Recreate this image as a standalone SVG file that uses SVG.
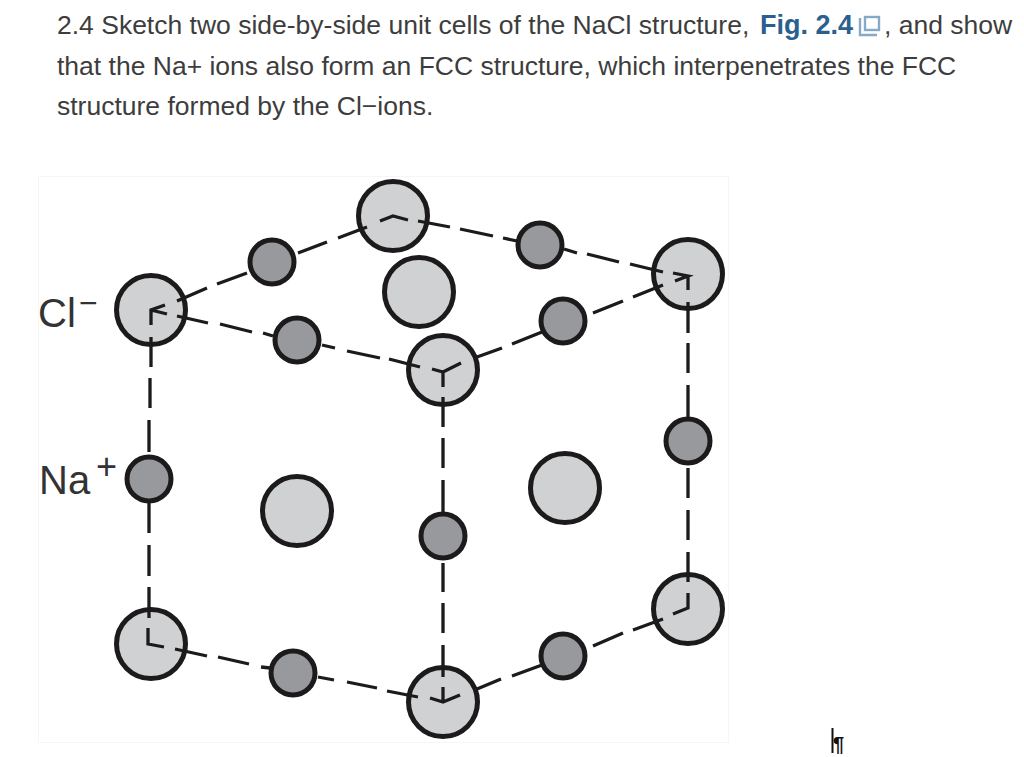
<svg xmlns="http://www.w3.org/2000/svg" width="1024" height="757" viewBox="0 0 1024 757">
<style>
.q{font-family:"Liberation Sans",Arial,sans-serif;font-size:26.5px;fill:#3d3d3d}
.b{font-weight:bold;fill:#2a5f8f;font-size:27px}
.l{font-family:"Liberation Sans",Arial,sans-serif;font-size:40px;fill:#333335}
.cl{fill:#cfd1d3;stroke:#1c1a1b;stroke-width:5}
.na{fill:#98999c;stroke:#1c1a1b;stroke-width:5}
#connectors path{fill:none;stroke:#1c1a1b;stroke-width:3.300;stroke-linejoin:miter}
.ic{fill:none;stroke:#86a9c8;stroke-width:2.400}
</style>
<rect width="1024" height="757" fill="#fff"/>
<rect x="38.500" y="176.500" width="690" height="566" fill="#fff" stroke="#f6f6f6"/>
<g id="question">
<text class="q" x="57" y="34">2.4 Sketch two side-by-side unit cells of the NaCl structure, <tspan class="b" x="760">Fig. 2.4</tspan></text>
<text class="q" x="884" y="34">, and show</text>
<text class="q" x="57" y="75">that the Na+ ions also form an FCC structure, which interpenetrates the FCC</text>
<text class="q" x="57" y="115">structure formed by the Cl−ions.</text>
<g id="fig-icon"><path class="ic" d="M860 18V35H877"/><rect class="ic" x="865" y="17" width="14" height="13"/></g>
</g>
<g id="cl-top-left"><circle class="cl" cx="151" cy="310" r="34.500"/></g>
<g id="cl-top-back"><circle class="cl" cx="393" cy="216" r="34.500"/></g>
<g id="cl-top-right"><circle class="cl" cx="688" cy="274" r="34.500"/></g>
<g id="cl-top-front"><circle class="cl" cx="443" cy="370" r="34.500"/></g>
<g id="cl-top-face"><circle class="cl" cx="419" cy="292" r="34.500"/></g>
<g id="cl-bottom-left"><circle class="cl" cx="151" cy="644" r="34.500"/></g>
<g id="cl-bottom-front"><circle class="cl" cx="443" cy="702" r="34.500"/></g>
<g id="cl-bottom-right"><circle class="cl" cx="688" cy="609" r="34.500"/></g>
<g id="cl-face-left"><circle class="cl" cx="297" cy="511" r="34.500"/></g>
<g id="cl-face-right"><circle class="cl" cx="565" cy="488" r="34.500"/></g>
<g id="na-1"><circle class="na" cx="272" cy="262" r="22"/></g>
<g id="na-2"><circle class="na" cx="297" cy="340" r="22"/></g>
<g id="na-3"><circle class="na" cx="540" cy="245" r="22"/></g>
<g id="na-4"><circle class="na" cx="563" cy="321" r="22"/></g>
<g id="na-5"><circle class="na" cx="688" cy="441" r="22"/></g>
<g id="na-6"><circle class="na" cx="149" cy="479" r="22"/></g>
<g id="na-7"><circle class="na" cx="293" cy="673" r="22"/></g>
<g id="na-8"><circle class="na" cx="443" cy="536" r="22"/></g>
<g id="na-9"><circle class="na" cx="563" cy="656" r="22"/></g>
<g id="connectors">
<path d="M151 325V310L165 305M151 310L167 314M177 301L207 288M217 284L247 273M298 253L327 242M338 238L367 227"/>
<path d="M177 316L208 323M220 324L252 332M263 333L273 336M322 345L335 348M347 351L380 358M389 359L420 367"/>
<path d="M432 369L443 372L461 363M443 372V387M443 397V427M443 438V468M443 480V512M443 563V592M443 603V633M443 645V677"/>
<path d="M443 687V702M430 698L443 702L460 695M387 691L418 697M347 682L377 688M318 677L334 680M261 667L270 668M218 657L249 664M175 649L207 656"/>
<path d="M164 647L148 644V628M149 618V587M149 576V545M149 533V503M150 378V408M151 337V367M149 420V452"/>
<path d="M477 689L501 679M512 676L542 665M593 646L623 633M633 630L663 619M673 614L688 608V593M688 582V552M688 540V510M688 498V468"/>
<path d="M673 273L688 276L675 281M688 276V290M688 302V333M688 343V373M688 385V417"/>
<path d="M633 297L663 285M593 313L623 301M512 344L542 332M477 357L502 348"/>
<path d="M630 264L663 272M587 254L619 262M564 249L577 253M503 238L517 241M460 229L493 236M418 221L450 227M408 220L393 216L380 221"/>
</g>
<g id="labels">
<text class="l" x="38" y="327">Cl</text>
<text class="l" x="79" y="314" style="font-size:32px">−</text>
<text class="l" x="39" y="494">Na</text>
<text class="l" x="96" y="479" style="font-size:36px">+</text>
</g>
<g id="cursor">
<path d="M832.500 728V753" stroke="#111" stroke-width="2" fill="none"/>
<text x="833" y="751" style="font-family:'Liberation Sans',Arial,sans-serif;font-size:20px;font-weight:bold;fill:#111">¶</text>
</g>
</svg>
